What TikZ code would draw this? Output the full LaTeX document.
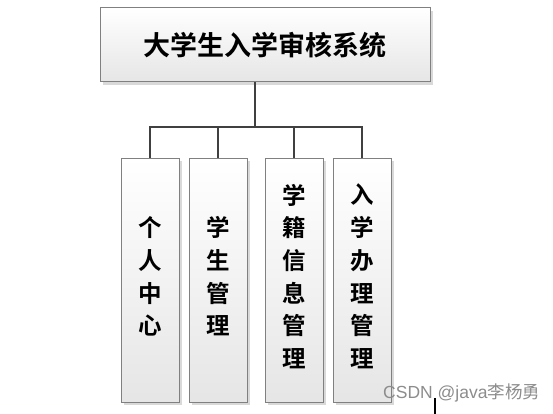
\documentclass[tikz,border=0pt]{standalone}
\usepackage{fontspec}
\newfontfamily\cjk{Noto Sans CJK SC}[BoldFont={Noto Sans CJK SC Bold}]
\usetikzlibrary{shadows}
\begin{document}
\begin{tikzpicture}[x=1pt,y=-1pt,
  box/.style={draw=black!50, line width=1pt, top color=white, bottom color=black!10,
    drop shadow={shadow xshift=3pt, shadow yshift=-3pt, fill=black!15, opacity=1},
    inner sep=0pt, font=\cjk\bfseries},
  sub/.style={box, minimum width=58pt, minimum height=244pt},
  lab/.style={align=center, inner sep=0pt, yshift=3.5pt,
    font=\cjk\bfseries\fontsize{23.5}{32.7}\selectfont},
  conn/.style={draw=black!75, line width=2pt}]
\useasboundingbox (0,0) rectangle (553,414);
\node[box, minimum width=330pt, minimum height=74pt, font=\cjk\bfseries\fontsize{27}{27}\selectfont] (top) at (265,45) {大学生入学审核系统};
\node[sub, label={[lab]center:{个\\人\\中\\心}}] (a) at (150,280) {};
\node[sub, label={[lab]center:{学\\生\\管\\理}}] (b) at (218,280) {};
\node[sub, label={[lab]center:{学\\籍\\信\\息\\管\\理}}] (c) at (294,280) {};
\node[sub, label={[lab]center:{入\\学\\办\\理\\管\\理}}] (d) at (362,280) {};
\coordinate (j) at (255,127);
\draw[conn] (top.south -| j) -- (j);
\draw[conn] (a.north) |- (j) -| (d.north);
\draw[conn] (b.north) -- (b.north |- j);
\draw[conn] (c.north) -- (c.north |- j);
\node[font=\fontspec{Liberation Sans}\fontsize{17.5}{17.5}\selectfont, text=black!45, anchor=west, inner sep=0pt] (wm) at (383,393) {CSDN @java\cjk 李杨勇};
\draw[line width=1.2pt] (435,398) -- (435,414);
\end{tikzpicture}
\end{document}
